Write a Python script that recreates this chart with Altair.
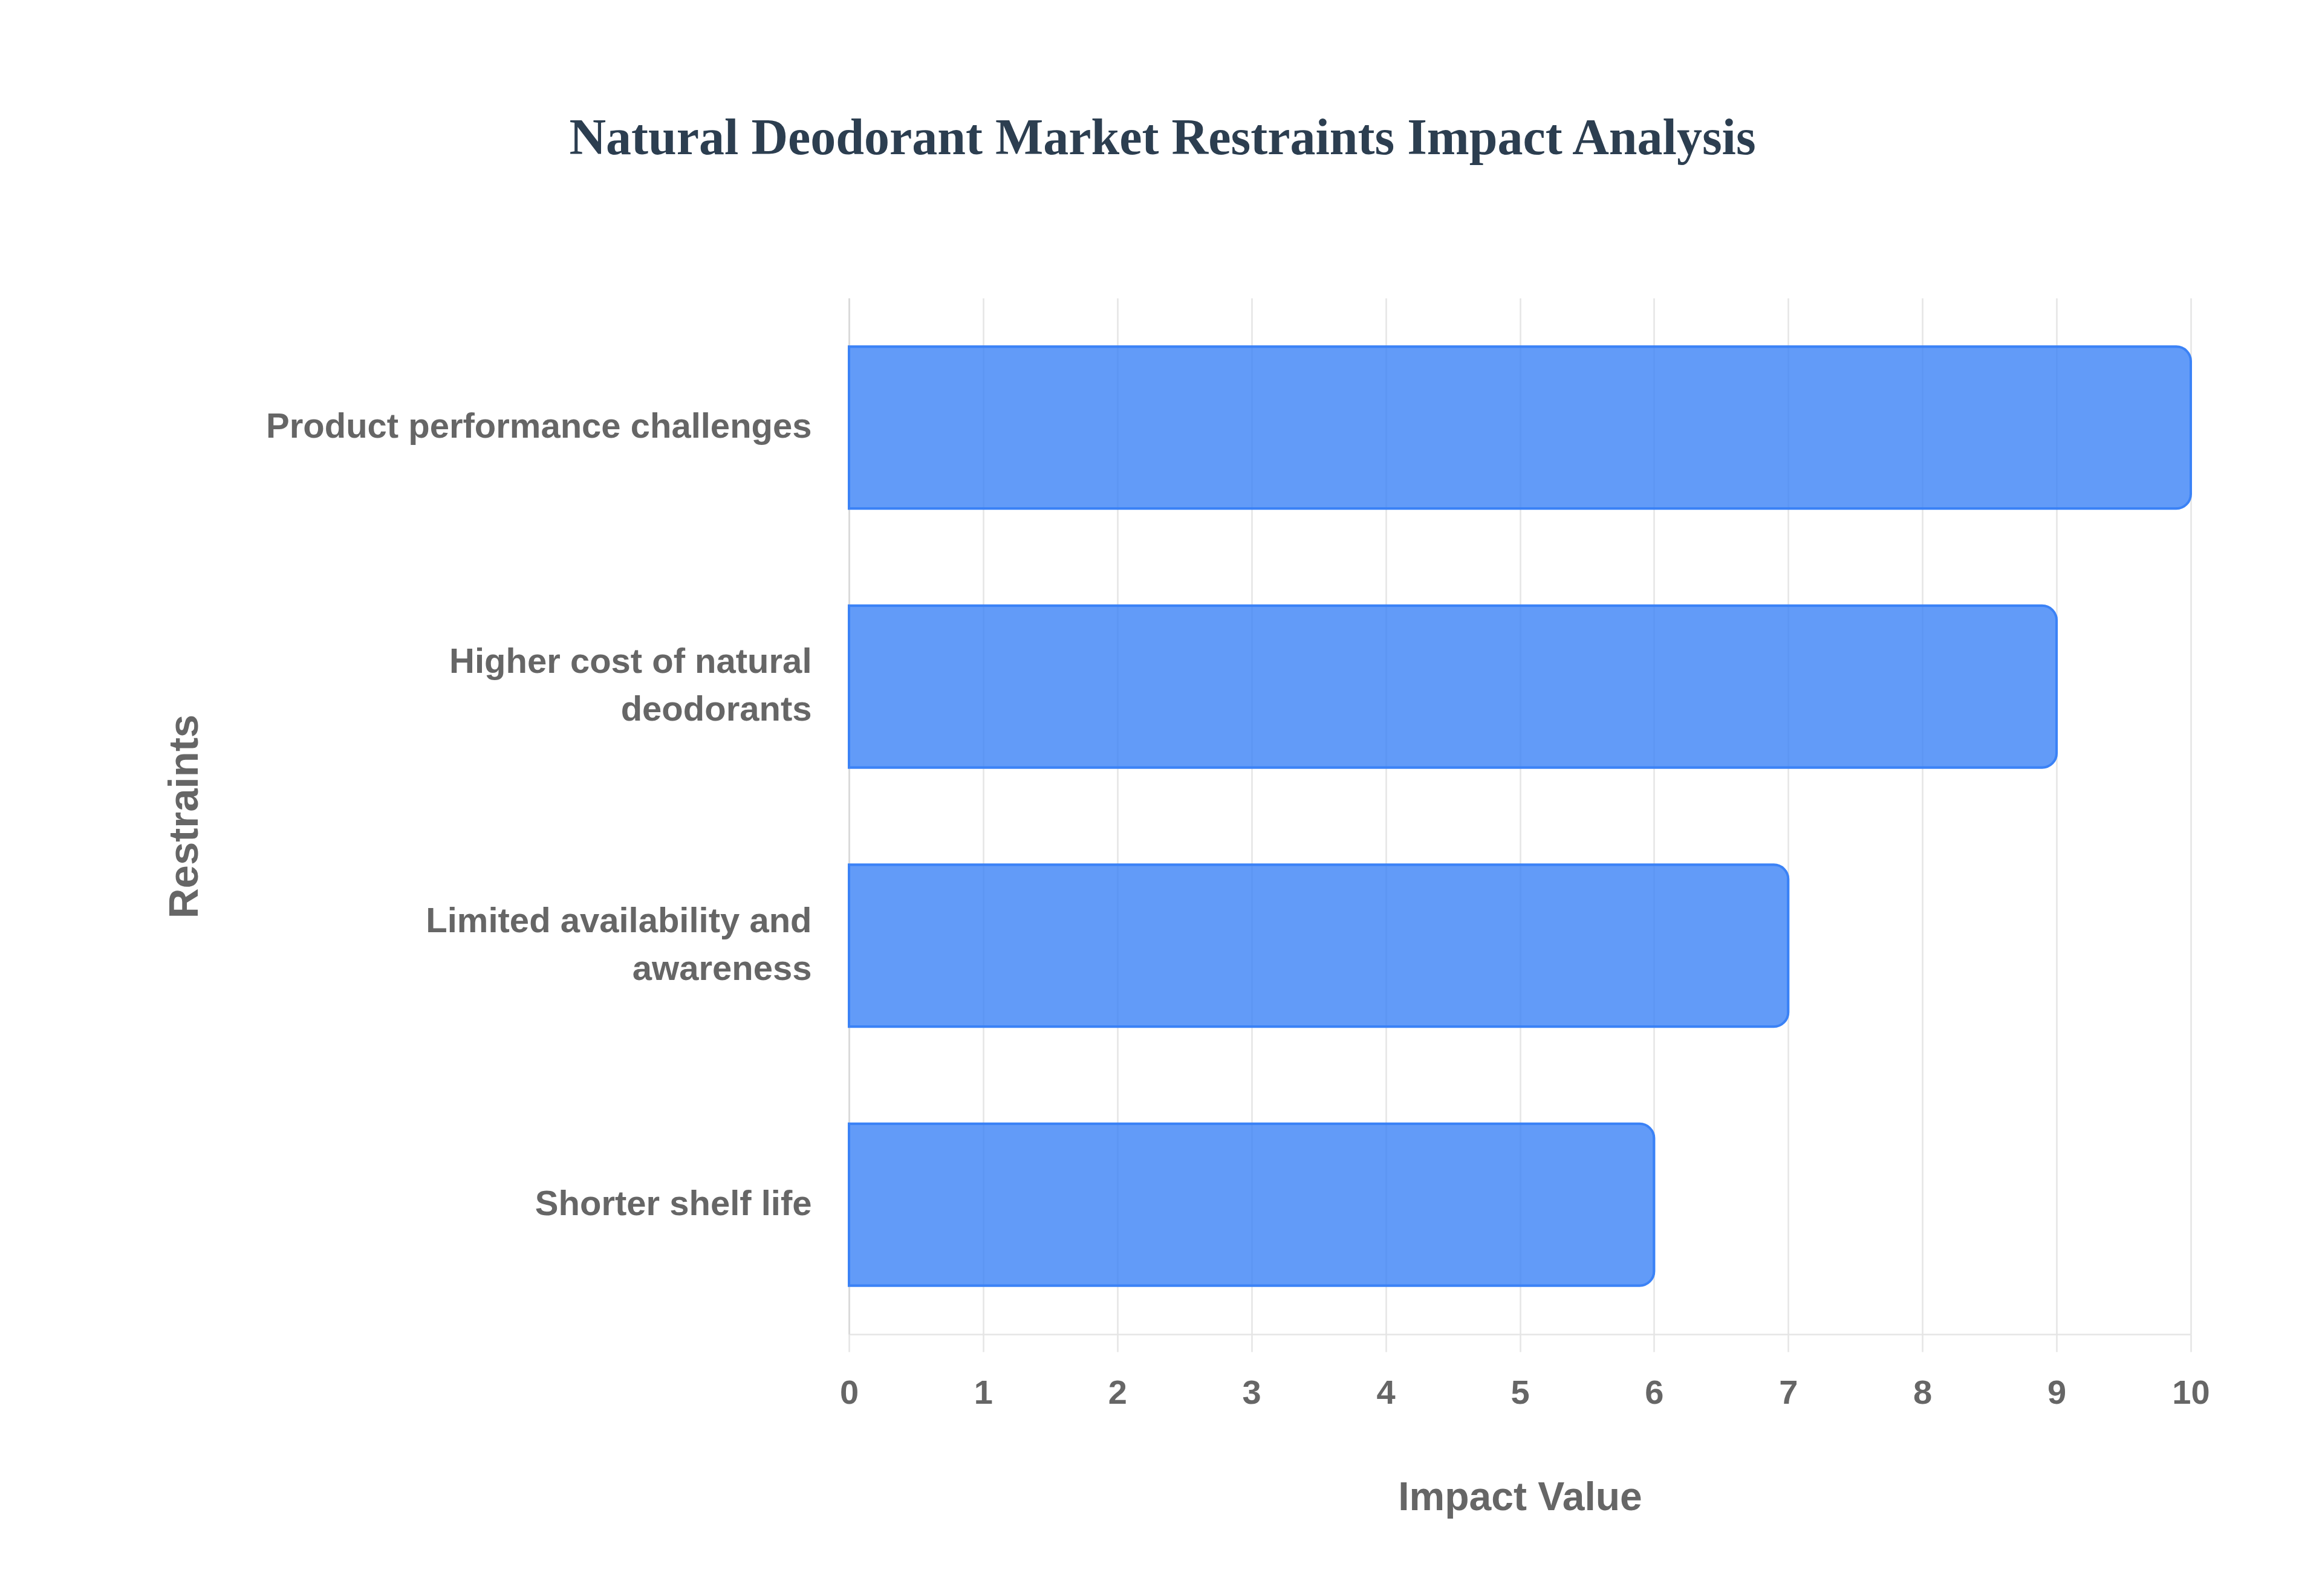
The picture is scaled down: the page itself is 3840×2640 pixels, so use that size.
import altair as alt
import pandas as pd

restraints = [
    "Product performance challenges",
    "Higher cost of natural\ndeodorants",
    "Limited availability and\nawareness",
    "Shorter shelf life",
]
impact_values = [10, 9, 7, 6]
x_ticks = list(range(0, 11))

df = pd.DataFrame({"Restraints": restraints, "Impact Value": impact_values})

label_font = "Liberation Sans"
gray = "#666666"
grid = "#e5e5e5"

chart = (
    alt.Chart(df)
    .mark_bar(
        color="#3b82f6",
        fillOpacity=0.8,
        stroke="#3b82f6",
        strokeWidth=4,
        cornerRadiusEnd=24,
    )
    .encode(
        x=alt.X(
            "Impact Value:Q",
            scale=alt.Scale(domain=[0, 10], nice=False),
            axis=alt.Axis(
                values=x_ticks,
                title="Impact Value",
                titleFont=label_font,
                titleFontSize=66,
                titleFontWeight="bold",
                titleColor=gray,
                titleBaseline="alphabetic",
                titleY=290,
                labelFont=label_font,
                labelFontSize=56,
                labelFontWeight="bold",
                labelColor=gray,
                labelPadding=41,
                labelFlush=False,
                grid=True,
                gridColor=grid,
                gridWidth=2.5,
                tickColor=grid,
                tickWidth=2.5,
                tickSize=29,
                domainColor=grid,
                domainWidth=2.5,
            ),
        ),
        y=alt.Y(
            "Restraints:N",
            sort=None,
            scale=alt.Scale(paddingInner=0.375, paddingOuter=0.1875),
            axis=alt.Axis(
                title="Restraints",
                titleFont=label_font,
                titleFontSize=69,
                titleFontWeight="bold",
                titleColor=gray,
                titleAngle=-90,
                titleBaseline="alphabetic",
                titleX=-1078,
                titleY=857,
                titleAlign="center",
                labelFont=label_font,
                labelFontSize=58,
                labelFontWeight="bold",
                labelColor=gray,
                labelPadding=62,
                labelLimit=1400,
                labelLineHeight=79,
                labelExpr="split(datum.label, '\\n')",
                labelOffset={
                    "condition": {
                        "test": "indexof(datum.value, '\\n') >= 0",
                        "value": -39.5,
                    },
                    "value": 0,
                },
                ticks=False,
                grid=False,
                domainColor="#d9d9d9",
                domainWidth=2.5,
            ),
        ),
    )
    .properties(
        width=2219,
        height=1714,
        padding={"left": 1396, "top": 485, "right": 209, "bottom": 425},
        autosize=alt.AutoSizeParams(type="none"),
        background="white",
        title=alt.TitleParams(
            text="Natural Deodorant Market Restraints Impact Analysis",
            font="Liberation Serif",
            fontSize=84,
            fontWeight="bold",
            color="#2c3e50",
            anchor="middle",
            frame="group",
            dx=-591,
            offset=220,
        ),
    )
    .configure_view(strokeWidth=0)
)

chart.save("out.html", embed_options={"renderer": "svg", "actions": False})
